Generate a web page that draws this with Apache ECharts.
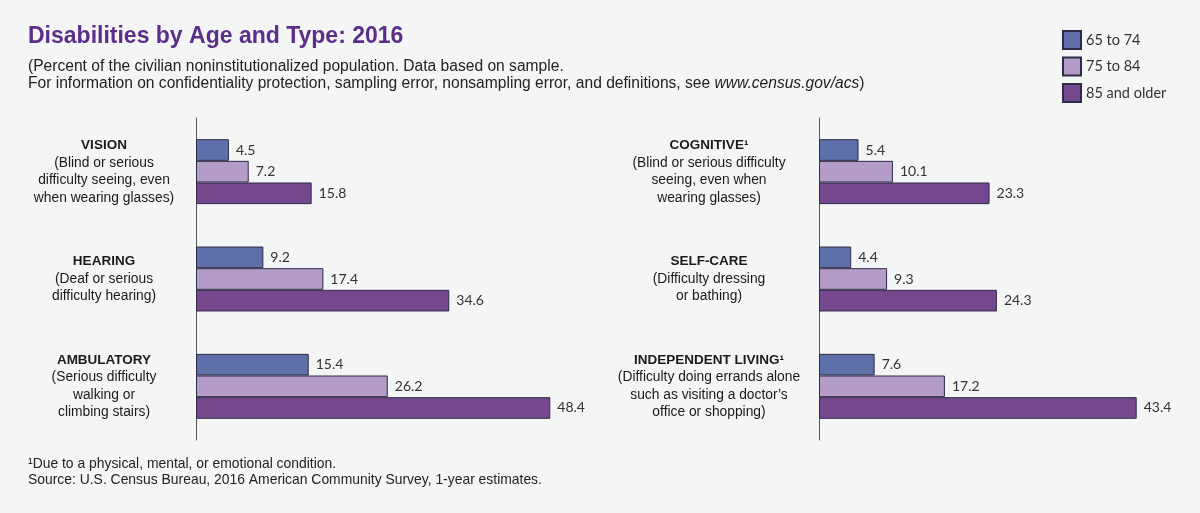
<!DOCTYPE html>
<html>
<head>
<meta charset="utf-8">
<script src="https://cdn.jsdelivr.net/npm/echarts@6/dist/echarts.min.js"></script>
<style>
html, body { margin: 0; background: #f4f5f5; }
#chart { width: 1200px; height: 513px; }
</style>
</head>
<body>
<div id="chart"></div>
<script>
const ageGroups = ['65 to 74', '75 to 84', '85 and older']
const leftTypes = ['VISION', 'HEARING', 'AMBULATORY']
const leftNotes = [
    ['(Blind or serious', 'difficulty seeing, even', 'when wearing glasses)'],
    ['(Deaf or serious', 'difficulty hearing)'],
    ['(Serious difficulty', 'walking or', 'climbing stairs)']
]
const rightTypes = ['COGNITIVE¹', 'SELF-CARE', 'INDEPENDENT LIVING¹']
const rightNotes = [
    ['(Blind or serious difficulty', 'seeing, even when', 'wearing glasses)'],
    ['(Difficulty dressing', 'or bathing)'],
    ['(Difficulty doing errands alone', 'such as visiting a doctor\u2019s', 'office or shopping)']
]
// one array per age group, in category order
const left65 = [4.5, 9.2, 15.4]
const left75 = [7.2, 17.4, 26.2]
const left85 = [15.8, 34.6, 48.4]
const right65 = [5.4, 4.4, 7.6]
const right75 = [10.1, 9.3, 17.2]
const right85 = [23.3, 24.3, 43.4]

const colorList = ['#5e70a9', '#b39cc7', '#75478e']
const textFont = '"Liberation Sans", Arial, sans-serif'
const numFont = 'Lato, "Open Sans", sans-serif'

const catLabel = (names, notes, margin) => ({
    margin: margin,
    align: 'center',
    verticalAlign: 'middle',
    color: '#1a1a1a',
    fontFamily: textFont,
    formatter: function (value) {
        let lines = ['{b|' + value + '}']
        notes[names.indexOf(value)].forEach(l => lines.push('{d|' + l + '}'))
        return lines.join('\n')
    },
    rich: {
        b: { fontWeight: 'bold', fontSize: 13.5, lineHeight: 17.5, fontFamily: textFont, color: '#1a1a1a' },
        d: { fontSize: 13.8, lineHeight: 17.5, fontFamily: textFont, color: '#1a1a1a' }
    }
})

const makeSeries = (values, panel) => values.map((v, i) => ({
    type: 'bar',
    name: ageGroups[i],
    xAxisIndex: panel,
    yAxisIndex: panel,
    data: v,
    barGap: '0%',
    barCategoryGap: '39.5%',
    itemStyle: { color: colorList[i], borderColor: '#2e2b45', borderWidth: 1 },
    label: {
        show: true,
        position: 'right',
        distance: 7,
        color: '#333',
        fontSize: 14,
        fontFamily: numFont,
        formatter: p => p.value.toFixed(1)
    },
    emphasis: { disabled: true }
}))

let option = {
    backgroundColor: '#f4f5f5',
    animation: false,
    title: [
        {
            text: 'Disabilities by Age and Type: 2016',
            left: 28,
            top: 25,
            padding: 0,
            textStyle: { fontSize: 23, fontWeight: 'bold', color: '#5c2d8a', fontFamily: textFont }
        },
        {
            text: '{n|(Percent of the civilian noninstitutionalized population. Data based on sample.}\n' +
                '{n|For information on confidentiality protection, sampling error, nonsampling error, and definitions, see }{i|www.census.gov/acs}{n|)}',
            left: 28,
            top: 58,
            padding: 0,
            textStyle: {
                fontWeight: 'normal',
                rich: {
                    n: { fontSize: 15.6, lineHeight: 17, color: '#222', fontWeight: 'normal', fontFamily: textFont },
                    i: { fontSize: 15.6, lineHeight: 17, color: '#222', fontWeight: 'normal', fontStyle: 'italic', fontFamily: textFont }
                }
            }
        },
        {
            text: '¹Due to a physical, mental, or emotional condition.\nSource: U.S. Census Bureau, 2016 American Community Survey, 1-year estimates.',
            left: 28,
            top: 456,
            padding: 0,
            textStyle: { fontSize: 13.9, lineHeight: 16, fontWeight: 'normal', color: '#222', fontFamily: textFont }
        }
    ],
    legend: {
        data: ageGroups,
        orient: 'vertical',
        left: 1062,
        top: 30,
        padding: 0,
        icon: 'rect',
        itemWidth: 18,
        itemHeight: 18,
        itemGap: 6.5,
        selectedMode: false,
        textStyle: { fontSize: 14.5, lineHeight: 18, color: '#333', fontFamily: numFont }
    },
    grid: [
        { left: 196, width: 366, top: 118, height: 322 },
        { left: 819, width: 366, top: 118, height: 322 }
    ],
    xAxis: [
        { type: 'value', gridIndex: 0, min: 0, max: 50, show: false },
        { type: 'value', gridIndex: 1, min: 0, max: 50, show: false }
    ],
    yAxis: [
        {
            type: 'category', gridIndex: 0, inverse: true, data: leftTypes,
            axisLine: { lineStyle: { color: '#555', width: 1 } },
            axisTick: { show: false },
            axisLabel: catLabel(leftTypes, leftNotes, 92)
        },
        {
            type: 'category', gridIndex: 1, inverse: true, data: rightTypes,
            axisLine: { lineStyle: { color: '#555', width: 1 } },
            axisTick: { show: false },
            axisLabel: catLabel(rightTypes, rightNotes, 110)
        }
    ],
    series: [
        ...makeSeries([left65, left75, left85], 0),
        ...makeSeries([right65, right75, right85], 1)
    ]
}

let eChart = echarts.init(document.getElementById('chart'))
eChart.setOption(option)
</script>
</body>
</html>
